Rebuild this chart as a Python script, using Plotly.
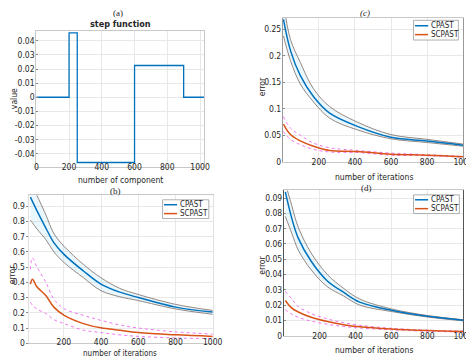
import plotly.graph_objects as go

# ---------------- data ----------------
# (a) step function
STEP_X = [0, 200, 250, 600, 900, 1024]
STEP_Y = [0, 0.0456, -0.0463, 0.0225, 0, 0]

# (b)
ITER_B = [20, 31, 55, 104, 146, 202, 305, 399, 500, 600, 800, 1000]
CP_B = [0.958, 0.93, 0.87, 0.754, 0.66, 0.581, 0.474, 0.388, 0.335, 0.30, 0.237, 0.205]
CP_B_UP = [1.06, 1.03, 0.97, 0.84, 0.72, 0.635, 0.517, 0.43, 0.36, 0.32, 0.255, 0.215]
CP_B_LO = [0.807, 0.79, 0.75, 0.678, 0.6, 0.528, 0.43, 0.345, 0.305, 0.28, 0.225, 0.19]
SC_B = [0.388, 0.42, 0.37, 0.312, 0.237, 0.183, 0.129, 0.101, 0.085, 0.07, 0.055, 0.045]
SC_B_UP = [0.485, 0.56, 0.5, 0.398, 0.29, 0.226, 0.183, 0.15, 0.12, 0.1, 0.075, 0.06]
SC_B_LO = [0.269, 0.25, 0.225, 0.194, 0.155, 0.129, 0.086, 0.07, 0.055, 0.045, 0.035, 0.03]

# (c)
ITER_C = [4, 43, 97, 170, 260, 413, 600, 800, 1000]
CP_C = [0.269, 0.21, 0.163, 0.123, 0.0915, 0.0666, 0.046, 0.039, 0.031]
CP_C_UP = [0.30, 0.231, 0.188, 0.138, 0.104, 0.0746, 0.051, 0.042, 0.033]
CP_C_LO = [0.238, 0.191, 0.147, 0.113, 0.082, 0.06, 0.043, 0.036, 0.029]
SC_C = [0.071, 0.051, 0.039, 0.029, 0.021, 0.019, 0.014, 0.012, 0.009]
SC_C_UP = [0.085, 0.063, 0.05, 0.035, 0.026, 0.021, 0.016, 0.013, 0.0095]
SC_C_LO = [0.057, 0.042, 0.032, 0.023, 0.018, 0.017, 0.012, 0.011, 0.008]

# (d)
ITER_D = [9, 45, 81, 153, 243, 333, 423, 600, 800, 1000]
CP_D = [0.094, 0.0767, 0.0638, 0.0487, 0.0358, 0.0284, 0.0219, 0.0166, 0.0127, 0.0101]
CP_D_UP = [0.10, 0.085, 0.071, 0.054, 0.040, 0.031, 0.024, 0.0175, 0.0132, 0.0104]
CP_D_LO = [0.078, 0.067, 0.056, 0.043, 0.032, 0.026, 0.020, 0.0158, 0.0122, 0.0097]
SC_D = [0.023, 0.018, 0.0155, 0.012, 0.0092, 0.0072, 0.0058, 0.0043, 0.0033, 0.0027]
SC_D_UP = [0.029, 0.024, 0.019, 0.0145, 0.011, 0.0085, 0.0068, 0.0048, 0.0036, 0.003]
SC_D_LO = [0.017, 0.014, 0.012, 0.0095, 0.0075, 0.006, 0.005, 0.0038, 0.0029, 0.0023]

SERIES = ["CPAST", "SCPAST"]

# ---------------- style ----------------
W, H = 474, 358
BLUE = "#0072BD"
ORANGE = "#D95319"
BAND = "#8a7a74"
PINK = "#ee66ee"
TXT = "#262626"
GRID = "#e8e8e8"
FONT = "Liberation Sans Narrow, DejaVu Sans Condensed, Liberation Sans, Arial, sans-serif"
SERIF = "Liberation Serif, DejaVu Serif, serif"
FS = 8.5
LFS = 8


def px(x):
    return x / W


def py(y):
    return 1 - y / H


fig = go.Figure()

# (a)
fig.add_trace(go.Scatter(x=STEP_X, y=STEP_Y, mode="lines", line=dict(color=BLUE, width=1.3, shape="hv"),
                         xaxis="x", yaxis="y", showlegend=False))


def add_panel(xa, ya, it, cp, cpu, cpl, sc, scu, scl):
    fig.add_trace(go.Scatter(x=it, y=cpl, mode="lines", line=dict(width=0, shape="spline"),
                             xaxis=xa, yaxis=ya, showlegend=False, hoverinfo="skip"))
    fig.add_trace(go.Scatter(x=it, y=cpu, mode="lines", line=dict(width=0, shape="spline"),
                             fill="tonexty", fillcolor="rgba(90,190,235,0.13)",
                             xaxis=xa, yaxis=ya, showlegend=False, hoverinfo="skip"))
    for band in (cpu, cpl):
        fig.add_trace(go.Scatter(x=it, y=band, mode="lines", line=dict(color=BAND, width=0.9, shape="spline"),
                                 xaxis=xa, yaxis=ya, showlegend=False))
    for band in (scu, scl):
        fig.add_trace(go.Scatter(x=it, y=band, mode="lines",
                                 line=dict(color=PINK, width=0.9, dash="dot", shape="spline"),
                                 xaxis=xa, yaxis=ya, showlegend=False))
    fig.add_trace(go.Scatter(x=it, y=cp, mode="lines", name=SERIES[0],
                             line=dict(color=BLUE, width=1.5, shape="spline"),
                             xaxis=xa, yaxis=ya, showlegend=False))
    fig.add_trace(go.Scatter(x=it, y=sc, mode="lines", name=SERIES[1],
                             line=dict(color=ORANGE, width=1.5, shape="spline"),
                             xaxis=xa, yaxis=ya, showlegend=False))


add_panel("x2", "y2", ITER_B, CP_B, CP_B_UP, CP_B_LO, SC_B, SC_B_UP, SC_B_LO)
add_panel("x3", "y3", ITER_C, CP_C, CP_C_UP, CP_C_LO, SC_C, SC_C_UP, SC_C_LO)
add_panel("x4", "y4", ITER_D, CP_D, CP_D_UP, CP_D_LO, SC_D, SC_D_UP, SC_D_LO)

tickfont = dict(family=FONT, size=FS, color=TXT)


def xax(domain, rng, tv, anchor, standoff=-8):
    return dict(domain=domain, range=rng, tickvals=tv, ticktext=[str(v) for v in tv],
                showgrid=True, gridcolor=GRID, gridwidth=1, zeroline=False,
                showline=True, linecolor="#c8c8c8", linewidth=1, mirror=True,
                ticks="", tickfont=tickfont, ticklabelstandoff=standoff, anchor=anchor)


def yax(domain, rng, tv, tt, anchor, linecolor="#c8c8c8", ticks="inside"):
    return dict(domain=domain, range=rng, tickvals=tv, ticktext=tt,
                showgrid=True, gridcolor=GRID, gridwidth=1, zeroline=False,
                showline=True, linecolor=linecolor, linewidth=1, mirror=True,
                ticks=ticks, ticklen=2, tickcolor="#888", tickfont=tickfont,
                ticklabelstandoff=-1, anchor=anchor)


YA_T = [-0.04, -0.03, -0.02, -0.01, 0, 0.01, 0.02, 0.03, 0.04]
YA_L = ["-0.04", "-0.03", "-0.02", "-0.01", "0", "0.01", "0.02", "0.03", "0.04"]
YB_T = [0, 0.1, 0.2, 0.3, 0.4, 0.5, 0.6, 0.7, 0.8, 0.9]
YB_L = ["0", "0.1", "0.2", "0.3", "0.4", "0.5", "0.6", "0.7", "0.8", "0.9"]
YC_T = [0, 0.05, 0.1, 0.15, 0.2, 0.25]
YC_L = ["0", "0.05", "0.1", "0.15", "0.2", "0.25"]
YD_T = [0, 0.01, 0.02, 0.03, 0.04, 0.05, 0.06, 0.07, 0.08, 0.09]
YD_L = ["0", "0.01", "0.02", "0.03", "0.04", "0.05", "0.06", "0.07", "0.08", "0.09"]
XA_T = [0, 200, 400, 600, 800, 1000]
XI_T = [200, 400, 600, 800, 1000]

fig.update_layout(
    width=W, height=H, margin=dict(l=0, r=0, t=0, b=0),
    paper_bgcolor="white", plot_bgcolor="white", showlegend=False,
    xaxis=xax([px(27), px(199)], [0, 1024], XA_T, "y"),
    yaxis=yax([py(161), py(23)], [-0.0493, 0.0472], YA_T, YA_L, "x"),
    xaxis2=xax([px(19), px(208)], [10, 1000], XI_T, "y2", standoff=-9),
    yaxis2=yax([py(340), py(190)], [0, 0.97], YB_T, YB_L, "x2", linecolor="#e0e0e0", ticks="outside"),
    xaxis3=xax([px(280), px(465)], [1, 1000], XI_T, "y3"),
    yaxis3=yax([py(155.7), py(10)], [0, 0.272], YC_T, YC_L, "x3", linecolor="#999"),
    xaxis4=xax([px(281), px(465)], [1, 1000], XI_T, "y4"),
    yaxis4=yax([py(332.3), py(185)], [0, 0.095], YD_T, YD_L, "x4", linecolor="#555"),
)

ann = []


def text(x, y, s, size=FS, angle=0, family=FONT, color=TXT):
    ann.append(dict(x=px(x), y=py(y), xref="paper", yref="paper", text=s, showarrow=False,
                    textangle=angle, font=dict(family=family, size=size, color=color),
                    xanchor="center", yanchor="middle"))


text(111, 5, "(a)", 9, family=SERIF)
text(113, 16, "<b>step function</b>", 9)
text(113, 174.5, "number of component")
text(3.5, 92, "value", angle=-90)

text(108, 186, "(b)", 9, family=SERIF)
text(2, 270, "error", angle=-90)
text(113, 350.5, "number of iterations", size=8)

text(364, 5, "<i>(c)</i>", 9, family=SERIF)
text(258, 80, "error", angle=-90)
text(373, 171.5, "number of iterations")

text(366, 182.5, "(d)", 9, family=SERIF)
text(259, 261, "error", angle=-90)
text(373, 347, "number of iterations")

shapes = []


def legend(x0, y0, x1, y1, ys):
    shapes.append(dict(type="rect", xref="paper", yref="paper", x0=px(x0), x1=px(x1), y0=py(y0), y1=py(y1),
                       line=dict(color="#9a9a9a", width=0.8), fillcolor="white", layer="above"))
    for name, col, yy in zip(SERIES, (BLUE, ORANGE), ys):
        shapes.append(dict(type="line", xref="paper", yref="paper", x0=px(x0 + 1.5), x1=px(x0 + 15),
                           y0=py(yy), y1=py(yy), line=dict(color=col, width=1.5), layer="above"))
        ann.append(dict(x=px(x0 + 16), y=py(yy), xref="paper", yref="paper", text=name, showarrow=False,
                        font=dict(family=FONT, size=LFS, color=TXT), xanchor="left", yanchor="middle"))


legend(156.5, 194.5, 204, 213.5, (199.5, 208.5))
legend(414, 12.5, 460, 32.5, (18, 27))
legend(414, 189.5, 461, 208.5, (194.5, 203.5))

fig.update_layout(annotations=ann, shapes=shapes)
fig.write_html("out.html")
